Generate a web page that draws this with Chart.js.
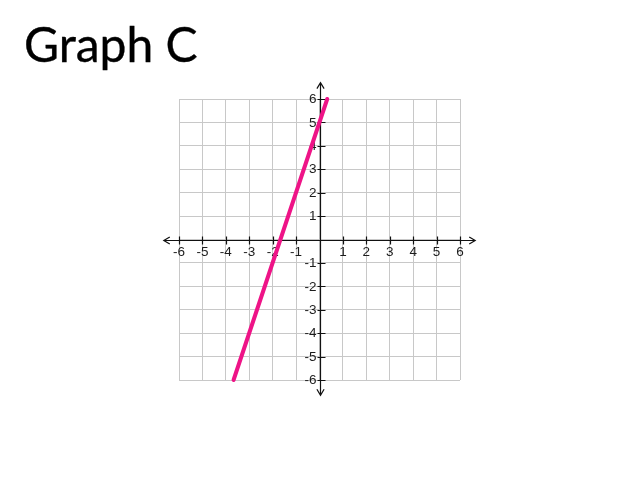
<!DOCTYPE html>
<html>
<head>
<meta charset="utf-8">
<script src="https://cdn.jsdelivr.net/npm/chart.js@4"></script>
<style>
  body { margin: 0; background: #fff; }
  #wrap { position: relative; width: 638px; height: 478px; }
  #title { position: absolute; left: 24px; top: 20px; font-family: Lato, sans-serif; font-size: 48px; line-height: 48px; color: #000; -webkit-text-stroke: 0.35px #000; }
</style>
</head>
<body>
<div id="wrap">
  <canvas id="graph" width="638" height="478"></canvas>
  <div id="title">Graph C</div>
</div>
<script>
// line y = 3x + 5
const lineX = [-3.67, 0.33];
const lineY = [-6, 6];
const xTickLabels = [-6, -5, -4, -3, -2, -1, 1, 2, 3, 4, 5, 6];
const yTickLabels = [-6, -5, -4, -3, -2, -1, 1, 2, 3, 4, 5, 6];

const axesPlugin = {
    id: 'centerAxes',
    beforeDatasetsDraw(chart) {
        const ctx = chart.ctx;
        const xs = chart.scales.x;
        const ys = chart.scales.y;
        const x0 = Math.round(xs.getPixelForValue(0)) + 0.5;
        const y0 = Math.round(ys.getPixelForValue(0)) + 0.5;
        const xl = xs.getPixelForValue(-6.65), xr = xs.getPixelForValue(6.65);
        const yt = ys.getPixelForValue(6.7), yb = ys.getPixelForValue(-6.65);

        ctx.save();
        ctx.strokeStyle = '#111';
        ctx.lineWidth = 1.2;
        ctx.beginPath();
        ctx.moveTo(xl, y0); ctx.lineTo(xr, y0);
        ctx.moveTo(x0, yt); ctx.lineTo(x0, yb);
        // arrow heads
        const a = 6;
        ctx.moveTo(xl + a, y0 - a * 0.6); ctx.lineTo(xl, y0); ctx.lineTo(xl + a, y0 + a * 0.6);
        ctx.moveTo(xr - a, y0 - a * 0.6); ctx.lineTo(xr, y0); ctx.lineTo(xr - a, y0 + a * 0.6);
        ctx.moveTo(x0 - a * 0.6, yt + a); ctx.lineTo(x0, yt); ctx.lineTo(x0 + a * 0.6, yt + a);
        ctx.moveTo(x0 - a * 0.6, yb - a); ctx.lineTo(x0, yb); ctx.lineTo(x0 + a * 0.6, yb - a);
        // ticks
        xTickLabels.forEach(v => {
            const px = Math.round(xs.getPixelForValue(v)) + 0.5;
            ctx.moveTo(px, y0 - 4); ctx.lineTo(px, y0 + 4);
        });
        yTickLabels.forEach(v => {
            const py = Math.round(ys.getPixelForValue(v)) + 0.5;
            ctx.moveTo(x0 - 3, py); ctx.lineTo(x0 + 5, py);
        });
        ctx.stroke();

        ctx.fillStyle = '#1c1c1c';
        ctx.font = '13.5px "Liberation Sans", Arial, sans-serif';
        ctx.textAlign = 'center';
        ctx.textBaseline = 'middle';
        xTickLabels.forEach(v => {
            ctx.fillText(String(v), xs.getPixelForValue(v), y0 + 12);
        });
        ctx.textAlign = 'right';
        yTickLabels.forEach(v => {
            ctx.fillText(String(v), x0 - 4, ys.getPixelForValue(v) + 0.5);
        });
        ctx.restore();
    }
};

new Chart(document.getElementById('graph').getContext('2d'), {
    type: 'scatter',
    data: {
        datasets: [{
            data: lineX.map((x, i) => ({ x: x, y: lineY[i] })),
            showLine: true,
            borderColor: '#ee1487',
            borderWidth: 4,
            borderCapStyle: 'round',
            pointRadius: 0,
            clip: false
        }]
    },
    options: {
        responsive: false,
        animation: false,
        layout: { padding: { left: 179, right: 178, top: 99, bottom: 98 } },
        scales: {
            x: {
                type: 'linear', min: -6, max: 6,
                ticks: { display: false, stepSize: 1 },
                grid: { color: '#c8c8c8', drawTicks: false },
                border: { display: false }
            },
            y: {
                type: 'linear', min: -6, max: 6,
                ticks: { display: false, stepSize: 1 },
                grid: { color: '#c8c8c8', drawTicks: false },
                border: { display: false }
            }
        },
        plugins: {
            legend: { display: false },
            tooltip: { enabled: false }
        }
    },
    plugins: [axesPlugin]
});
</script>
</body>
</html>
